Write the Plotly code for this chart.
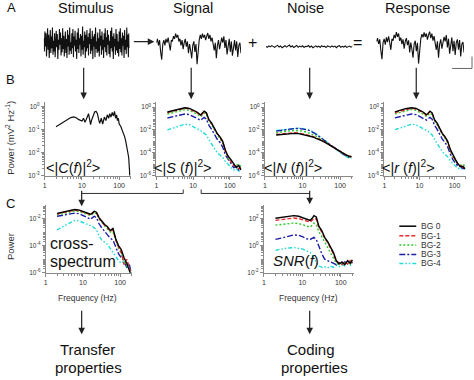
import plotly.graph_objects as go

W, H = 474, 380
FONT = "Arial, Liberation Sans, sans-serif"

# ---------------- data ----------------
groups = ["BG 0", "BG-1", "BG-2", "BG-3", "BG-4"]
colors = ["#000000", "#ee2a2a", "#2ccc2c", "#1c1caa", "#22dada"]
dashes = ["solid", "4px,2px", "2px,2px", "6px,2px,2px,2px", "4px,2px,1.5px,2px,1.5px,2px"]

# Panel A time traces (arbitrary units)
stimulus = [
 0.3,-0.5,0.7,-0.2,0.6,-0.8,0.1,0.9,-0.4,0.5,-0.9,0.2,0.8,-0.6,0.4,-0.3,0.95,-0.7,0.15,-0.5,
 0.6,-0.85,0.35,0.75,-0.25,0.55,-0.95,0.2,-0.4,0.85,-0.1,0.65,-0.75,0.3,-0.55,0.9,-0.35,0.45,-0.8,0.1,
 0.7,-0.6,0.25,-0.9,0.8,-0.2,0.5,-0.7,0.95,-0.45,0.05,-0.65,0.6,-0.3,0.85,-0.85,0.4,-0.15,0.75,-0.5,
 0.2,-0.95,0.65,-0.35,0.9,-0.6,0.3,-0.1,0.55,-0.8,0.45,-0.4,1.0,-0.7,0.15,-0.25,0.7,-0.9,0.5,-0.5,
 0.8,-0.3,0.35,-0.75,0.6,-0.05,0.9,-0.65,0.25,-0.45,0.75,-0.95,0.4,-0.2,0.55,-0.85,0.95,-0.35,0.1,-0.6,
 0.65,-0.5,0.3,-0.8,0.85,-0.15,0.45,-0.7,0.7,-0.4,0.2,-0.9,0.6,-0.25,0.9,-0.55,0.35,-0.75,0.8,-0.1,
 0.5,-0.65,0.15,-0.85,0.75,-0.3,0.95,-0.5,0.4,-0.95,0.6,-0.2,0.25,-0.7,0.85,-0.45,0.55,-0.6,0.1,-0.8,
 0.7,-0.35,0.9,-0.55,0.3,-0.75,0.65,-0.15,0.45,-0.9,0.8,-0.4,0.2,-0.65,0.95,-0.25,0.5,-0.85,0.6,-0.3]
signal = [
 0.3,0.6,0.1,0.5,-0.4,-1.0,0.2,0.5,0.1,0.6,
 0.3,0.7,0.2,-0.3,0.5,0.4,0.8,0.6,1.0,0.7,
 0.9,0.4,0.6,0.1,0.5,-0.2,0.3,0.6,0.0,0.4,
 -0.5,0.2,-0.3,-0.9,0.1,0.4,-0.4,0.2,-1.35,-0.2,
 0.5,0.9,0.6,1.0,0.7,0.9,0.5,0.8,1.05,0.6,
 0.9,0.4,0.7,0.2,-0.3,0.3,-0.9,0.1,0.5,-0.2,
 0.4,0.7,0.3,0.8,-0.1,0.5,-0.6,0.3,0.6,-0.4,
 0.4,-0.7,0.2,0.5,-0.3,0.4,-0.8,0.1,0.3,-0.5]
noise = [
 0.02,-0.05,0.06,-0.02,0.08,0.0,-0.06,0.04,0.1,-0.03,0.05,-0.08,0.02,0.07,-0.04,0.03,0.12,-0.02,0.06,-0.07,
 0.01,0.09,-0.05,0.04,-0.02,0.07,-0.06,0.03,0.0,0.08,-0.04,0.05,-0.08,0.02,0.06,-0.03,0.04,-0.06,0.07,-0.01,
 0.03,-0.07,0.05,0.01,-0.04,0.06,-0.02,0.04,-0.08,0.03,0.07,-0.05,0.02,-0.03,0.05,-0.06,0.01,0.04,-0.04,0.02]
response = [
 0.32,0.58,0.14,0.48,-0.38,-1.05,0.24,0.52,0.08,0.63,
 0.28,0.72,0.22,-0.32,0.53,0.38,0.82,0.58,1.04,0.68,
 0.93,0.37,0.62,0.12,0.48,-0.24,0.33,0.58,0.03,0.41,
 -0.52,0.24,-0.28,-0.93,0.12,0.38,-0.43,0.22,-1.38,-0.18,
 0.52,0.88,0.63,1.02,0.68,0.93,0.47,0.83,1.08,0.57,
 0.92,0.38,0.73,0.18,-0.32,0.33,-0.93,0.12,0.48,-0.23,
 0.43,0.68,0.32,0.82,-0.13,0.52,-0.62,0.28,0.63,-0.42,
 0.38,-0.72,0.23,0.48,-0.32,0.43,-0.83,0.12,0.28,-0.53]

# Stimulus power spectrum |C(f)|^2 (log10 values)
c_freq = [2,3,4,5,6,7,8,9,10,11,12,13,14,15,16,17,18,20,22,24,26,28,30,33,36,40,44,48,52,56,60,
          65,70,75,80,85,90,95,100,110,120,130,140,150,160,170,180,190,195]
c_log10 = [-0.87,-0.7,-0.55,-0.47,-0.44,-0.48,-0.55,-0.6,-0.62,-0.5,-0.68,-0.55,-0.4,-0.3,-0.55,-0.78,-0.6,
           -0.35,-0.22,-0.2,-0.3,-0.55,-0.72,-0.5,-0.75,-0.45,-0.6,-0.35,-0.5,-0.3,-0.45,
           -0.25,-0.4,-0.2,-0.5,-0.35,-0.6,-0.5,-0.75,-0.85,-1.0,-1.1,-1.3,-1.5,-1.7,-1.95,-2.2,-2.8,-3.5]

freq = [2,3,4,6,8,10,13,16,18,20,23,27,32,38,45,54,64,76,90,107,127,150,175,200]

S_log10 = [
 [-0.43,-0.28,-0.15,-0.06,-0.12,-0.25,-0.45,-0.7,-0.55,-0.35,-0.5,-1.1,-1.4,-1.9,-2.3,-2.6,-3.0,-3.8,-4.3,-4.6,-5.0,-5.3,-5.1,-5.5],
 [-0.48,-0.32,-0.2,-0.1,-0.16,-0.3,-0.5,-0.75,-0.6,-0.4,-0.55,-1.15,-1.45,-1.95,-2.3,-2.65,-3.05,-3.9,-4.4,-4.8,-5.1,-5.2,-5.4,-5.3],
 [-0.6,-0.45,-0.32,-0.22,-0.28,-0.42,-0.62,-0.85,-0.72,-0.52,-0.66,-1.25,-1.55,-2.0,-2.4,-2.75,-3.15,-3.9,-4.5,-4.7,-5.0,-5.1,-5.0,-5.2],
 [-0.95,-0.82,-0.7,-0.6,-0.66,-0.8,-0.98,-1.15,-1.02,-0.9,-1.05,-1.6,-1.95,-2.4,-2.8,-3.1,-3.5,-4.2,-4.6,-5.0,-5.3,-5.2,-5.5,-5.4],
 [-2.0,-1.82,-1.65,-1.5,-1.55,-1.7,-1.88,-2.05,-2.15,-2.3,-2.45,-2.85,-3.2,-3.6,-4.0,-4.2,-4.4,-4.8,-5.0,-5.3,-5.5,-5.4,-5.6,-5.5]]

N_log10 = [
 [-2.45,-2.38,-2.33,-2.3,-2.32,-2.38,-2.45,-2.55,-2.6,-2.65,-2.72,-2.82,-2.93,-3.05,-3.2,-3.38,-3.52,-3.68,-3.82,-3.98,-4.12,-4.22,-4.3,-4.35],
 [-2.4,-2.33,-2.28,-2.25,-2.27,-2.33,-2.4,-2.5,-2.55,-2.6,-2.67,-2.77,-2.9,-3.02,-3.17,-3.35,-3.5,-3.66,-3.8,-3.97,-4.12,-4.22,-4.3,-4.35],
 [-2.25,-2.15,-2.1,-2.05,-2.05,-2.1,-2.2,-2.3,-2.4,-2.45,-2.55,-2.67,-2.8,-2.95,-3.12,-3.32,-3.48,-3.65,-3.8,-3.98,-4.13,-4.25,-4.35,-4.4],
 [-2.1,-2.0,-1.95,-1.88,-1.87,-1.9,-1.98,-2.08,-2.15,-2.25,-2.38,-2.55,-2.73,-2.9,-3.08,-3.3,-3.48,-3.66,-3.82,-4.0,-4.17,-4.3,-4.4,-4.45],
 [-2.05,-1.98,-1.92,-1.85,-1.84,-1.87,-1.95,-2.05,-2.12,-2.2,-2.33,-2.5,-2.7,-2.88,-3.07,-3.3,-3.48,-3.67,-3.85,-4.05,-4.22,-4.35,-4.45,-4.5]]

R_log10 = [
 [-0.42,-0.27,-0.14,-0.06,-0.12,-0.26,-0.45,-0.68,-0.55,-0.35,-0.5,-1.1,-1.4,-1.9,-2.3,-2.6,-3.0,-3.7,-4.2,-4.6,-5.0,-5.2,-5.2,-5.4],
 [-0.47,-0.32,-0.19,-0.1,-0.17,-0.3,-0.5,-0.74,-0.6,-0.4,-0.55,-1.15,-1.45,-1.95,-2.35,-2.65,-3.05,-3.8,-4.3,-4.7,-5.0,-5.1,-5.3,-5.2],
 [-0.6,-0.44,-0.31,-0.21,-0.28,-0.42,-0.62,-0.84,-0.71,-0.52,-0.66,-1.25,-1.55,-2.0,-2.4,-2.75,-3.15,-3.85,-4.4,-4.7,-5.0,-5.1,-5.0,-5.2],
 [-0.94,-0.81,-0.7,-0.6,-0.66,-0.8,-0.98,-1.14,-1.02,-0.9,-1.05,-1.6,-1.95,-2.4,-2.8,-3.1,-3.5,-4.1,-4.6,-4.9,-5.2,-5.2,-5.4,-5.3],
 [-1.98,-1.8,-1.64,-1.5,-1.55,-1.7,-1.87,-2.04,-2.14,-2.28,-2.43,-2.83,-3.18,-3.55,-3.9,-4.15,-4.35,-4.7,-4.95,-5.2,-5.4,-5.3,-5.5,-5.4]]

X_log10 = [  # cross-spectrum
 [-1.64,-1.52,-1.42,-1.35,-1.4,-1.5,-1.62,-1.7,-1.6,-1.48,-1.55,-1.95,-2.2,-2.45,-2.6,-2.9,-2.75,-3.5,-4.0,-4.3,-4.9,-5.3,-5.8,-6.3],
 [-1.68,-1.56,-1.46,-1.39,-1.44,-1.54,-1.66,-1.74,-1.64,-1.52,-1.6,-2.0,-2.25,-2.5,-2.65,-2.95,-2.85,-3.6,-4.1,-4.5,-5.4,-5.0,-5.6,-6.2],
 [-1.75,-1.63,-1.53,-1.46,-1.5,-1.6,-1.72,-1.8,-1.7,-1.58,-1.66,-2.05,-2.3,-2.55,-2.75,-3.0,-3.0,-3.7,-4.2,-4.6,-5.2,-5.5,-5.7,-6.1],
 [-1.85,-1.75,-1.68,-1.62,-1.66,-1.78,-1.95,-2.07,-1.95,-1.85,-1.95,-2.4,-2.7,-3.0,-3.2,-3.45,-3.6,-4.1,-4.6,-4.9,-5.1,-5.6,-5.3,-6.2],
 [-2.85,-2.6,-2.4,-2.15,-2.2,-2.3,-2.45,-2.55,-2.6,-2.7,-2.85,-3.3,-3.6,-3.75,-3.9,-4.2,-4.5,-4.9,-5.1,-5.3,-5.1,-5.6,-5.4,-6.0]]

SNR_log10 = [
 [2.0,2.08,2.14,2.2,2.15,2.05,1.92,1.85,2.0,2.2,2.1,1.4,1.1,0.6,0.3,-0.1,-0.5,-1.1,-1.35,-1.2,-1.4,-1.1,-1.3,-1.05],
 [1.85,1.92,1.98,2.02,1.98,1.9,1.78,1.72,1.85,2.0,1.95,1.3,1.0,0.55,0.25,-0.15,-0.6,-1.15,-1.3,-1.4,-1.2,-1.35,-1.1,-1.25],
 [1.5,1.56,1.6,1.65,1.62,1.55,1.42,1.35,1.5,1.65,1.55,1.0,0.65,0.25,-0.1,-0.45,-0.9,-1.3,-1.4,-1.25,-1.3,-1.15,-1.35,-1.2],
 [0.45,0.55,0.65,0.78,0.75,0.65,0.5,0.45,0.55,0.6,0.45,-0.1,-0.6,-1.0,-1.1,-1.25,-1.3,-1.4,-1.25,-1.35,-1.2,-1.3,-1.1,-1.3],
 [-0.35,-0.25,-0.18,-0.15,-0.18,-0.25,-0.4,-0.5,-0.7,-1.0,-1.2,-1.5,-1.6,-1.55,-1.65,-1.5,-1.6,-1.45,-1.55,-1.4,-1.5,-1.35,-1.45,-1.3]]

x_tick_vals = [1, 10, 100]
x_tick_text = ["1", "10", "100"]

# ---------------- helpers ----------------
def PX(x): return x / W
def PY(y): return 1 - y / H

fig = go.Figure()
layout = dict(width=W, height=H, margin=dict(l=0, r=0, t=0, b=0),
              paper_bgcolor="white", plot_bgcolor="white", showlegend=False,
              font=dict(family=FONT, color="#222"))
annotations, shapes = [], []

def pow10(v): return [10 ** a for a in v]

AXC = "#8a8a8a"
TF = dict(family=FONT, size=7, color="#333")

def minor_vals(lo, hi):
    out = []
    for d in range(lo, hi + 1):
        for k in range(2, 10):
            out.append(k * 10.0 ** d)
    return out

# Panel A: hidden axes per trace
a_boxes = [(42, 128, 26, 61, 1.05, stimulus), (155, 240, 28, 66, 1.45, signal),
           (265, 352, 28, 66, 1.45, noise), (376, 464, 27, 65, 1.45, response)]
n = 0
for x0, x1, y0, y1, rng, vals in a_boxes:
    n += 1
    layout[f"xaxis{n}"] = dict(domain=[PX(x0), PX(x1)], range=[0, len(vals) - 1], visible=False, anchor=f"y{n}")
    layout[f"yaxis{n}"] = dict(domain=[PY(y1), PY(y0)], range=[-rng, rng], visible=False, anchor=f"x{n}")
    fig.add_trace(go.Scatter(x=list(range(len(vals))), y=vals, mode="lines",
                             line=dict(color="#111", width=1.1), xaxis=f"x{n}", yaxis=f"y{n}"))

def log_axes(n, x0, x1, ytop, ybot, yrange, ytickvals, yticktext):
    layout[f"xaxis{n}"] = dict(type="log", domain=[PX(x0), PX(x1)], range=[0, 2.33], anchor=f"y{n}",
                               tickvals=x_tick_vals, ticktext=x_tick_text, tickfont=TF,
                               showline=True, linecolor=AXC, linewidth=1, ticks="outside", ticklen=3,
                               tickcolor=AXC, showgrid=False, zeroline=False,
                               minor=dict(ticks="outside", ticklen=2, tickcolor=AXC, tickvals=minor_vals(0, 2)))
    layout[f"yaxis{n}"] = dict(type="log", domain=[PY(ybot), PY(ytop)], range=yrange, anchor=f"x{n}",
                               tickvals=ytickvals, ticktext=yticktext, tickfont=dict(family=FONT, size=6.5, color="#333"),
                               showline=True, linecolor=AXC, linewidth=1, ticks="outside", ticklen=3,
                               tickcolor=AXC, showgrid=False, zeroline=False,
                               minor=dict(ticks="outside", ticklen=2, tickcolor=AXC,
                                          tickvals=minor_vals(int(yrange[0]) - 1, int(yrange[1]) + 1)))

def sup(e): return f"10<sup>{e}</sup>"

# B1: stimulus spectrum
log_axes(5, 43, 130, 103, 177, [-3, 0.2], [1, 0.1, 0.01, 0.001], [sup(0), sup(-1), sup(-2), sup(-3)])
fig.add_trace(go.Scatter(x=c_freq, y=pow10(c_log10), mode="lines", line=dict(color="#111", width=1.2),
                         xaxis="x5", yaxis="y5"))

ytv6 = [1, 1e-2, 1e-4, 1e-6]
ytt6 = [sup(0), sup(-2), sup(-4), sup(-6)]
for n, (x0, x1), data in [(6, (155, 241), S_log10), (7, (264, 352), N_log10), (8, (384, 466), R_log10)]:
    log_axes(n, x0, x1, 103, 177, [-6, 0.43], ytv6, ytt6)
    for g in range(4, -1, -1):
        fig.add_trace(go.Scatter(x=freq, y=pow10(data[g]), mode="lines",
                                 line=dict(color=colors[g], width=1.4, dash=dashes[g]),
                                 xaxis=f"x{n}", yaxis=f"y{n}"))

# C1: cross-spectrum, C2: SNR
log_axes(9, 44, 131, 207, 275, [-6, -1.05], [1e-2, 1e-4, 1e-6], [sup(-2), sup(-4), sup(-6)])
log_axes(10, 263, 353, 207, 275, [-2, 2.95], [1e2, 1, 1e-2], [sup(2), sup(0), sup(-2)])
for n, data in [(9, X_log10), (10, SNR_log10)]:
    for g in range(4, -1, -1):
        fig.add_trace(go.Scatter(x=freq, y=pow10(data[g]), mode="lines",
                                 line=dict(color=colors[g], width=1.4, dash=dashes[g]),
                                 xaxis=f"x{n}", yaxis=f"y{n}"))

# ---------------- text ----------------
def txt(x, y, s, size, xanchor="center", angle=0, color="#111"):
    annotations.append(dict(x=PX(x), y=PY(y), xref="paper", yref="paper", text=s, showarrow=False,
                            xanchor=xanchor, yanchor="middle", textangle=angle,
                            font=dict(family=FONT, size=size, color=color)))

txt(3, 8, "A", 13, "left")
txt(2, 80, "B", 13, "left")
txt(2, 205, "C", 13, "left")
txt(84, 8, "Stimulus", 14.5)
txt(192, 8, "Signal", 14.5)
txt(305, 8, "Noise", 14.5)
txt(417, 8, "Response", 14.5)
txt(252, 43, "+", 16)
txt(357, 43, "=", 16)

txt(8, 139, "Power (mV<sup>2</sup> Hz<sup>-1</sup>)", 9.5, angle=-90, color="#333")
txt(8, 248, "Power", 9.5, angle=-90, color="#333")

txt(42, 168, "&lt;|<i>C</i>(<i>f</i>)|<sup>2</sup>&gt;", 14.5, "left")
txt(151, 168, "&lt;|<i>S</i> (<i>f</i>)|<sup>2</sup>&gt;", 14.5, "left")
txt(261, 168, "&lt;|<i>N</i> (<i>f</i>)|<sup>2</sup>&gt;", 14.5, "left")
txt(380, 168, "&lt;|<i>r</i> (<i>f</i>)|<sup>2</sup>&gt;", 14.5, "left")
txt(46, 245, "cross-", 16, "left")
txt(46, 264, "spectrum", 16, "left")
txt(270, 263, "<i>SNR</i>(<i>f</i>)", 15, "left")

txt(86, 300, "Frequency (Hz)", 8.5, color="#333")
txt(308, 300, "Frequency (Hz)", 8.5, color="#333")
txt(86, 352, "Transfer", 15)
txt(87, 370, "properties", 15)
txt(310, 352, "Coding", 15)
txt(314, 370, "properties", 15)

# legend
leg_y = [228, 237.5, 247, 256.5, 265.5]
for g in range(5):
    shapes.append(dict(type="line", xref="paper", yref="paper", x0=PX(399), x1=PX(416),
                       y0=PY(leg_y[g]), y1=PY(leg_y[g]),
                       line=dict(color=colors[g], width=1.5, dash=dashes[g])))
    txt(419, leg_y[g], groups[g], 8.5, "left", color="#333")

# ---------------- arrows & connectors ----------------
def arrow(x, y_head, dx, dy):
    annotations.append(dict(x=PX(x), y=PY(y_head), xref="paper", yref="paper", text="",
                            showarrow=True, ax=dx, ay=dy, arrowhead=2, arrowsize=1.1,
                            arrowwidth=1.2, arrowcolor="#222", standoff=0, startstandoff=0))

def seg(x0, y0, x1, y1, color="#333"):
    shapes.append(dict(type="line", xref="paper", yref="paper", x0=PX(x0), y0=PY(y0),
                       x1=PX(x1), y1=PY(y1), line=dict(color=color, width=1)))

arrow(153, 42, -22, 0)
for xa in [82, 190, 309, 416]:
    arrow(xa, 100, 0, -33)
# scale bar
seg(472, 57, 472, 69, "#666")
seg(452, 69, 472, 69, "#666")
# brackets B -> C
arrow(80, 208, 0, -17)
seg(80, 195, 182, 195)
seg(182, 191, 182, 195)
seg(200, 191, 200, 195)
seg(200, 195, 309, 195)
arrow(309, 206, 0, -15)
# C -> conclusions
arrow(80, 337, 0, -25)
arrow(309, 337, 0, -25)

layout["annotations"] = annotations
layout["shapes"] = shapes
fig.update_layout(**layout)
fig.write_html("out.html", config={"displayModeBar": False},
               post_script="document.body.style.margin='0px';document.body.style.padding='0px';")
